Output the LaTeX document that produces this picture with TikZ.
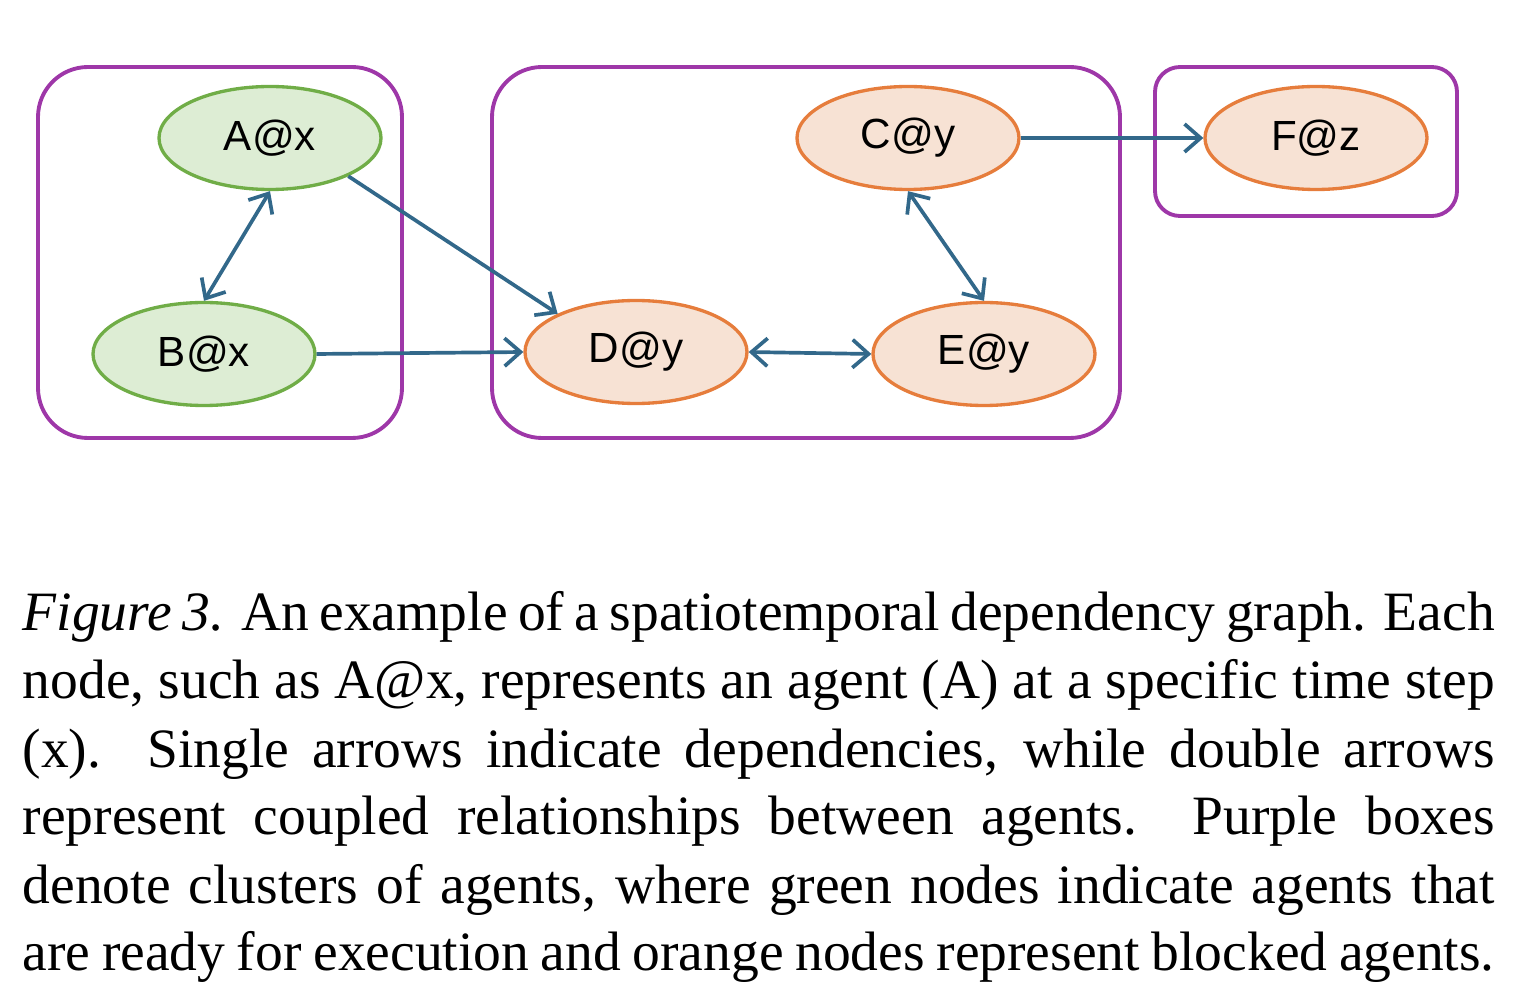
\documentclass[tikz,border=0pt]{standalone}
\usepackage{fontspec}
\setmainfont{Liberation Serif}
\setsansfont{Liberation Sans}
\usetikzlibrary{shapes.geometric,arrows.meta}
\definecolor{cluster}{RGB}{158,55,168}
\definecolor{readyline}{RGB}{112,173,71}
\definecolor{readyfill}{RGB}{221,237,212}
\definecolor{blockedline}{RGB}{230,125,60}
\definecolor{blockedfill}{RGB}{247,226,212}
\definecolor{link}{RGB}{50,104,138}
\tikzstyle{agent}=[ellipse, minimum width=2.22cm, minimum height=1.03cm, inner sep=0pt, line width=0.95pt, font=\sffamily\fontsize{12}{14}\selectfont]
\tikzstyle{ready}=[agent, draw=readyline, fill=readyfill]
\tikzstyle{blocked}=[agent, draw=blockedline, fill=blockedfill]
\tikzstyle{clusterbox}=[draw=cluster, line width=1.1pt, rounded corners=0.5cm]
\tikzstyle{dep}=[draw=link, line width=1.05pt, -{Straight Barb[length=1.6mm,width=2.8mm]}]
\tikzstyle{coupled}=[dep, {Straight Barb[length=1.6mm,width=2.8mm]}-{Straight Barb[length=1.6mm,width=2.8mm]}]
\tikzstyle{captext}=[anchor=base west, inner sep=0pt, font=\fontsize{15.8}{19}\selectfont]

\begin{document}
\begin{tikzpicture}
    \useasboundingbox (0,0) rectangle (15.18,-10.08);

    \draw[clusterbox] (0.38,-0.67) rectangle (4.02,-4.38);
    \draw[clusterbox] (4.92,-0.67) rectangle (11.20,-4.38);
    \draw[clusterbox, rounded corners=0.25cm] (11.55,-0.67) rectangle (14.57,-2.16);

    \node[ready] (ax) at (2.70,-1.38) {A@x};
    \node[ready] (bx) at (2.04,-3.54) {B@x};
    \node[blocked] (cy) at (9.08,-1.38) {C@y};
    \node[blocked] (dy) at (6.36,-3.52) {D@y};
    \node[blocked] (ey) at (9.84,-3.54) {E@y};
    \node[blocked] (fz) at (13.16,-1.38) {F@z};

    \draw[coupled] (ax.south) -- (bx.north);
    \draw[dep] (ax.-26) -- (dy.154);
    \draw[dep] (bx.east) -- (dy.west);
    \draw[coupled] (dy.east) -- (ey.west);
    \draw[coupled] (cy.south) -- (ey.north);
    \draw[dep] (cy.east) -- (fz.west);

    \foreach \txt [count=\i] in {
        {\textit{Figure 3.} An example of a spatiotemporal dependency graph. Each},
        {node, such as A@x, represents an agent (A) at a specific time step},
        {(x).\ \ Single arrows indicate dependencies, while double arrows},
        {represent coupled relationships between agents.\ \ Purple boxes},
        {denote clusters of agents, where green nodes indicate agents that},
        {are ready for execution and orange nodes represent blocked agents.}}
        \node[captext] (cap\i) at (0.22,{-6.31-0.68*(\i-1)}) {\makebox[14.72cm][s]{\txt}};
\end{tikzpicture}
\end{document}
